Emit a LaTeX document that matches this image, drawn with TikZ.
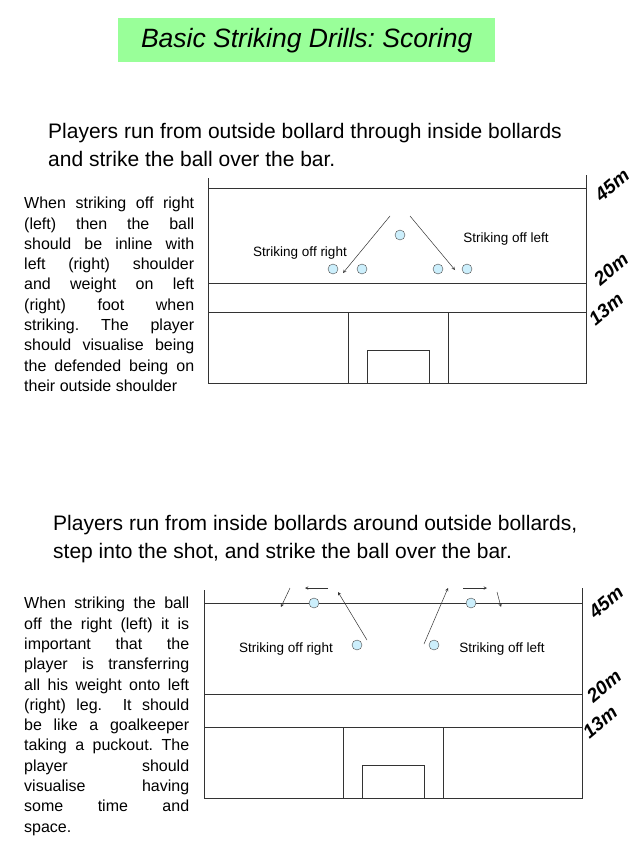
\documentclass[tikz,border=0pt]{standalone}
\usepackage{fontspec}
\setmainfont{Liberation Sans}
\frenchspacing
\begin{document}
\begin{tikzpicture}[x=1pt,y=-1pt,
  ln/.style={line width=0.7pt,draw=black!80},
  boll/.style={circle,draw=black!70,fill=cyan!20!white,minimum size=10pt,inner sep=0pt},
  arr/.style={-stealth,line width=0.5pt,draw=black!80},
  lbl/.style={font=\fontsize{13.5}{15}\selectfont,inner sep=0pt},
  dist/.style={font=\fontsize{19}{19}\selectfont\bfseries\itshape,rotate=40,inner sep=0pt},
  side/.style={font=\fontsize{16}{20.3}\selectfont,text width=170pt,align=justify,anchor=north west,inner sep=0pt},
  head/.style={font=\fontsize{21}{28}\selectfont,align=left,anchor=north west,inner sep=0pt}]
\useasboundingbox (0,0) rectangle (638,851);
\fill[white] (0,0) rectangle (638,851);
\node[fill=green!40!white,minimum width=377pt,minimum height=44pt,anchor=north west,font=\fontsize{26.5}{28}\selectfont\itshape] (title) at (118,18) {Basic Striking Drills: Scoring};
\node[head] (h1) at (48,123) {Players run from outside bollard through inside bollards\\and strike the ball over the bar.};
\node[side] (s1) at (24,197) {When striking off right\linebreak (left) then the ball\linebreak should be inline with\linebreak left (right) shoulder\linebreak and weight on left\linebreak (right) foot when\linebreak striking. The player\linebreak should visualise being\linebreak the defended being on\linebreak their outside shoulder};
% top pitch
\draw[ln] (208,178) -- (208,383) -- (586,383) -- (586,175);
\foreach \y in {188,283,312} \draw[ln] (208,\y) -- (586,\y);
\draw[ln] (348,312) -- (348,383) (448,312) -- (448,383);
\draw[ln] (367,383) -- (367,350) -- (429,350) -- (429,383);
\node[boll] (b1) at (400,235) {};
\node[boll] (b2) at (333,269) {};
\node[boll] (b3) at (362,269) {};
\node[boll] (b4) at (438,269) {};
\node[boll] (b5) at (467,269) {};
\coordinate (a1s) at (390,216); \coordinate (a1e) at (343,273);
\coordinate (a2s) at (410,216); \coordinate (a2e) at (455,270);
\draw[arr] (a1s) -- (a1e);
\draw[arr] (a2s) -- (a2e);
\node[lbl] (l1) at (300,253) {Striking off right};
\node[lbl] (l2) at (506,239) {Striking off left};
\node[dist] (d1) at (612,185) {45m};
\node[dist] (d2) at (611,269) {20m};
\node[dist] (d3) at (606,309) {13m};
% bottom
\node[head] (h2) at (53,515) {Players run from inside bollards around outside bollards,\\step into the shot, and strike the ball over the bar.};
\node[side,text width=165pt] (s2) at (24,597) {When striking the ball\linebreak off the right (left) it is\linebreak important that the\linebreak player is transferring\linebreak all his weight onto left\linebreak (right) leg.\ \ It should\linebreak be like a goalkeeper\linebreak taking a puckout. The\linebreak player should\linebreak visualise having\linebreak some time and\linebreak space.};
\draw[ln] (204,590) -- (204,798) -- (582,798) -- (582,588);
\foreach \y in {603,694,727} \draw[ln] (204,\y) -- (582,\y);
\draw[ln] (343,727) -- (343,798) (443,727) -- (443,798);
\draw[ln] (362,798) -- (362,765) -- (424,765) -- (424,798);
\node[boll] (c1) at (314,603) {};
\node[boll] (c2) at (471,603) {};
\node[boll] (c3) at (357,645) {};
\node[boll] (c4) at (434,645) {};
\coordinate (e1s) at (290,588); \coordinate (e1e) at (281,607);
\coordinate (e2s) at (328,588); \coordinate (e2e) at (305,588);
\coordinate (e3s) at (367,640); \coordinate (e3e) at (338,592);
\coordinate (e4s) at (424,644); \coordinate (e4e) at (448,588);
\coordinate (e5s) at (463,588); \coordinate (e5e) at (487,588);
\coordinate (e6s) at (497,592); \coordinate (e6e) at (501,607);
\foreach \i in {1,...,6} \draw[arr] (e\i s) -- (e\i e);
\node[lbl] (l3) at (286,649) {Striking off right};
\node[lbl] (l4) at (502,649) {Striking off left};
\node[dist] (d4) at (606,602) {45m};
\node[dist] (d5) at (604,686) {20m};
\node[dist] (d6) at (600,722) {13m};
\end{tikzpicture}
\end{document}
